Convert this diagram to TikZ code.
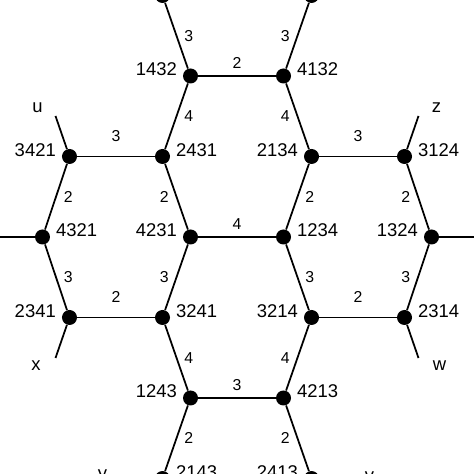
\documentclass[tikz,border=0pt]{standalone}
\usepackage{fontspec}
\setmainfont{Liberation Sans}
\usetikzlibrary{positioning}
\tikzset{
  vtx/.style={circle, fill=black, minimum size=0.3cm, inner sep=0pt},
  lbl/.style={font=\fontsize{10.5}{13}\selectfont, inner sep=0pt, yshift=0.13cm},
  tag/.style={font=\fontsize{10.5}{13}\selectfont, inner sep=0pt},
  elbl/.style={font=\fontsize{9}{11}\selectfont, inner sep=0pt},
  link/.style={line width=1pt, black},
}

\begin{document}
\begin{tikzpicture}[x=1cm,y=1cm,label distance=0.11cm]
\useasboundingbox (-4.74,-4.74) rectangle (4.74,4.74);
\clip (-4.74,-4.74) rectangle (4.74,4.74);
% vertices, row by row
\node[vtx] (t1) at (-1.49,4.83) {};
\node[vtx] (t2) at (1.49,4.83) {};
\node[vtx, label={[lbl]left:1432}]  (v1432) at (-0.93,3.22) {};
\node[vtx, label={[lbl]right:4132}] (v4132) at (0.93,3.22) {};
\node[vtx, label={[lbl]left:3421}]  (v3421) at (-3.35,1.61) {};
\node[vtx, label={[lbl]right:2431}] (v2431) at (-1.49,1.61) {};
\node[vtx, label={[lbl]left:2134}]  (v2134) at (1.49,1.61) {};
\node[vtx, label={[lbl]right:3124}] (v3124) at (3.35,1.61) {};
\node[vtx, label={[lbl]right:4321}] (v4321) at (-3.89,0) {};
\node[vtx, label={[lbl]left:4231}]  (v4231) at (-0.93,0) {};
\node[vtx, label={[lbl]right:1234}] (v1234) at (0.93,0) {};
\node[vtx, label={[lbl]left:1324}]  (v1324) at (3.89,0) {};
\node[vtx, label={[lbl]left:2341}]  (v2341) at (-3.35,-1.61) {};
\node[vtx, label={[lbl]right:3241}] (v3241) at (-1.49,-1.61) {};
\node[vtx, label={[lbl]left:3214}]  (v3214) at (1.49,-1.61) {};
\node[vtx, label={[lbl]right:2314}] (v2314) at (3.35,-1.61) {};
\node[vtx, label={[lbl]left:1243}]  (v1243) at (-0.93,-3.22) {};
\node[vtx, label={[lbl]right:4213}] (v4213) at (0.93,-3.22) {};
\node[vtx, label={[lbl]right:2143}] (v2143) at (-1.49,-4.83) {};
\node[vtx, label={[lbl]left:2413}]  (v2413) at (1.49,-4.83) {};
% free ends
\coordinate (su) at (-3.63,2.42);
\coordinate (sz) at (3.63,2.42);
\coordinate (sx) at (-3.63,-2.42);
\coordinate (sw) at (3.63,-2.42);
\coordinate (sl) at (-4.9,0);
\coordinate (sr) at (4.9,0);
\node[tag] (lu) at (-3.99,2.58) {u};
\node[tag] (lz) at (3.99,2.58) {z};
\node[tag] (lx) at (-4.02,-2.58) {x};
\node[tag] (lw) at (4.05,-2.58) {w};
\node[tag] (ly) at (-2.69,-4.80) {y};
\node[tag] (lv) at (2.65,-4.80) {v};
% edges
\draw[link] (v1432) -- node[elbl, right=0.14cm] {3} (t1);
\draw[link] (v4132) -- node[elbl, left=0.14cm] {3} (t2);
\draw[link] (v1432) -- node[elbl, above=0.135cm] {2} (v4132);
\draw[link] (v1432) -- node[elbl, right=0.14cm] {4} (v2431);
\draw[link] (v4132) -- node[elbl, left=0.14cm] {4} (v2134);
\draw[link] (v3421) -- node[elbl, above=0.28cm] {3} (v2431);
\draw[link] (v2134) -- node[elbl, above=0.28cm] {3} (v3124);
\draw[link] (v3421) -- node[elbl, right=0.14cm] {2} (v4321);
\draw[link] (v2431) -- node[elbl, left=0.14cm] {2} (v4231);
\draw[link] (v2134) -- node[elbl, right=0.14cm] {2} (v1234);
\draw[link] (v3124) -- node[elbl, left=0.14cm] {2} (v1324);
\draw[link] (v4231) -- node[elbl, above=0.135cm] {4} (v1234);
\draw[link] (v4321) -- node[elbl, right=0.14cm] {3} (v2341);
\draw[link] (v4231) -- node[elbl, left=0.14cm] {3} (v3241);
\draw[link] (v1234) -- node[elbl, right=0.14cm] {3} (v3214);
\draw[link] (v1324) -- node[elbl, left=0.14cm] {3} (v2314);
\draw[link] (v2341) -- node[elbl, above=0.28cm] {2} (v3241);
\draw[link] (v3214) -- node[elbl, above=0.28cm] {2} (v2314);
\draw[link] (v3241) -- node[elbl, right=0.14cm] {4} (v1243);
\draw[link] (v3214) -- node[elbl, left=0.14cm] {4} (v4213);
\draw[link] (v1243) -- node[elbl, above=0.135cm] {3} (v4213);
\draw[link] (v1243) -- node[elbl, right=0.14cm] {2} (v2143);
\draw[link] (v4213) -- node[elbl, left=0.14cm] {2} (v2413);
\draw[link] (v3421) -- (su);
\draw[link] (v3124) -- (sz);
\draw[link] (v2341) -- (sx);
\draw[link] (v2314) -- (sw);
\draw[link] (v4321) -- (sl);
\draw[link] (v1324) -- (sr);
\end{tikzpicture}
\end{document}
